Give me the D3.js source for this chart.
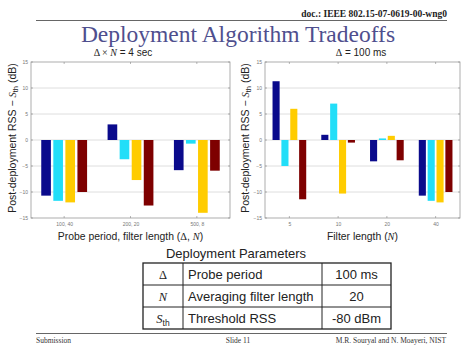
<!DOCTYPE html>
<html><head><meta charset="utf-8">
<script src="https://cdn.jsdelivr.net/npm/d3@7"></script>
<style>
body{margin:0;background:#fff;}
svg{display:block;}
</style></head>
<body>
<svg id="c" width="474" height="355"></svg>
<script>
// ---- data ----
const leftCategories = ["100, 40", "200, 20", "500, 8"];
const rightCategories = ["5", "10", "20", "40"];
const leftSeries1 = [-10.7, 3.0, -5.8];
const leftSeries2 = [-11.7, -3.7, -0.7];
const leftSeries3 = [-12.0, -7.7, -14.0];
const leftSeries4 = [-10.0, -12.6, -5.9];
const rightSeries1 = [11.3, 1.0, -4.1, -10.7];
const rightSeries2 = [-5.0, 7.0, 0.3, -11.7];
const rightSeries3 = [6.0, -10.3, 0.8, -12.0];
const rightSeries4 = [-11.4, -0.5, -3.9, -10.0];
const yTicks = [-15, -10, -5, 0, 5, 10, 15];
const seriesColors = ["#0a0a8c", "#22def8", "#ffcc00", "#7e0000"];
const tableRows = [
  ["Δ", "Probe period", "100 ms"],
  ["N", "Averaging filter length", "20"],
  ["S", "Threshold RSS", "-80 dBm"]
];

const svg = d3.select("#c");

// ---- header ----
svg.append("text").attr("x", 447).attr("y", 17).attr("text-anchor", "end")
  .attr("font-family", "Liberation Serif").attr("font-weight", "bold").attr("font-size", 9.5)
  .attr("fill", "#222").text("doc.: IEEE 802.15-07-0619-00-wng0");
svg.append("line").attr("x1", 36).attr("x2", 447).attr("y1", 20.5).attr("y2", 20.5)
  .attr("stroke", "#666").attr("stroke-width", 1);
svg.append("text").attr("x", 238).attr("y", 42).attr("text-anchor", "middle")
  .attr("font-family", "Liberation Serif").attr("font-size", 23.5)
  .attr("fill", "#4f4f8e").text("Deployment Algorithm Tradeoffs");

// ---- footer ----
svg.append("line").attr("x1", 36).attr("x2", 447).attr("y1", 333.5).attr("y2", 333.5)
  .attr("stroke", "#666").attr("stroke-width", 1);
const foot = [["Submission", 36, "start"], ["Slide 11", 238, "middle"], ["M.R. Souryal and N. Moayeri, NIST", 446, "end"]];
foot.forEach(f => svg.append("text").attr("x", f[1]).attr("y", 343).attr("text-anchor", f[2])
  .attr("font-family", "Liberation Serif").attr("font-size", 7.5).attr("fill", "#333").text(f[0]));

function drawChart(opt) {
  const g = svg.append("g");
  const x = d3.scaleLinear().domain([0.5, opt.cats.length + 0.5]).range([opt.x0, opt.x1]);
  const y = d3.scaleLinear().domain([-15, 15]).range([opt.y1, opt.y0]);
  // grid
  g.selectAll(".grid").data(yTicks.filter(t => t > -15 && t < 15)).enter().append("line")
    .attr("x1", opt.x0).attr("x2", opt.x1).attr("y1", d => y(d)).attr("y2", d => y(d))
    .attr("stroke", "#d6d6d6").attr("stroke-width", 0.8);
  // bars
  const nS = opt.series.length;
  const groupW = Math.min(0.8, nS / (nS + 1.5));
  const step = groupW / nS;
  const bw = step * 0.8;
  opt.series.forEach((s, si) => {
    g.selectAll(null).data(s).enter().append("rect")
      .attr("x", (d, i) => x(i + 1 - groupW / 2 + step * si + (step - bw) / 2))
      .attr("width", x(bw) - x(0))
      .attr("y", d => y(Math.max(0, d)))
      .attr("height", d => Math.abs(y(d) - y(0)))
      .attr("fill", seriesColors[si]);
  });
  // box
  g.append("rect").attr("x", opt.x0).attr("y", opt.y0).attr("width", opt.x1 - opt.x0).attr("height", opt.y1 - opt.y0)
    .attr("fill", "none").attr("stroke", "#9a9a9a").attr("stroke-width", 0.8);
  // y axis
  const ya = d3.axisLeft(y).tickValues(yTicks).tickSize(0).tickPadding(3);
  const yg = g.append("g").attr("transform", `translate(${opt.x0},0)`).call(ya);
  yg.select(".domain").remove();
  yg.selectAll("text").attr("font-family", "Liberation Sans").attr("font-size", 5).attr("fill", "#777");
  // inner ticks
  yTicks.forEach(t => {
    g.append("line").attr("x1", opt.x0).attr("x2", opt.x0 + 2).attr("y1", y(t)).attr("y2", y(t)).attr("stroke", "#888").attr("stroke-width", 0.6);
    g.append("line").attr("x1", opt.x1 - 2).attr("x2", opt.x1).attr("y1", y(t)).attr("y2", y(t)).attr("stroke", "#888").attr("stroke-width", 0.6);
  });
  // x axis
  const xa = d3.axisBottom(x).tickValues(d3.range(1, opt.cats.length + 1)).tickFormat(d => opt.cats[d - 1]).tickSize(0).tickPadding(4);
  const xg = g.append("g").attr("transform", `translate(0,${opt.y1})`).call(xa);
  xg.select(".domain").remove();
  xg.selectAll("text").attr("font-family", "Liberation Sans").attr("font-size", 5).attr("fill", "#777");
  d3.range(1, opt.cats.length + 1).forEach(c => {
    g.append("line").attr("x1", x(c)).attr("x2", x(c)).attr("y1", opt.y1).attr("y2", opt.y1 - 2).attr("stroke", "#888").attr("stroke-width", 0.6);
    g.append("line").attr("x1", x(c)).attr("x2", x(c)).attr("y1", opt.y0).attr("y2", opt.y0 + 2).attr("stroke", "#888").attr("stroke-width", 0.6);
  });
  // y label
  const yl = g.append("text").attr("transform", `translate(${opt.ylx},${(opt.y0 + opt.y1) / 2 - 2}) rotate(-90)`)
    .attr("text-anchor", "middle").attr("font-family", "Liberation Sans").attr("font-size", 10.5).attr("fill", "#222");
  yl.append("tspan").text("Post-deployment RSS − ");
  yl.append("tspan").attr("font-family", "Liberation Serif").attr("font-style", "italic").text("S");
  yl.append("tspan").attr("font-size", 7.5).attr("dy", 2).text("th");
  yl.append("tspan").attr("dy", -2).text(" (dB)");
  // x label
  const xl = g.append("text").attr("x", (opt.x0 + opt.x1) / 2).attr("y", 240).attr("text-anchor", "middle")
    .attr("font-family", "Liberation Sans").attr("font-size", 10.4).attr("fill", "#222");
  opt.xlabel(xl);
  // subtitle
  const st = g.append("text").attr("x", opt.stx).attr("y", 56).attr("text-anchor", "middle")
    .attr("font-family", "Liberation Sans").attr("font-size", 10).attr("fill", "#222");
  opt.subtitle(st);
}

drawChart({
  cats: leftCategories,
  series: [leftSeries1, leftSeries2, leftSeries3, leftSeries4],
  x0: 31, x1: 230, y0: 62, y1: 218, ylx: 16, stx: 123,
  xlabel: t => {
    t.append("tspan").text("Probe period, filter length (");
    t.append("tspan").attr("font-family", "Liberation Serif").text("Δ");
    t.append("tspan").text(", ");
    t.append("tspan").attr("font-family", "Liberation Serif").attr("font-style", "italic").text("N");
    t.append("tspan").text(")");
  },
  subtitle: t => {
    t.append("tspan").attr("font-family", "Liberation Serif").text("Δ × ");
    t.append("tspan").attr("font-family", "Liberation Serif").attr("font-style", "italic").text("N");
    t.append("tspan").text(" = 4 sec");
  }
});
drawChart({
  cats: rightCategories,
  series: [rightSeries1, rightSeries2, rightSeries3, rightSeries4],
  x0: 265, x1: 460, y0: 62, y1: 218, ylx: 249, stx: 361,
  xlabel: t => {
    t.append("tspan").text("Filter length (");
    t.append("tspan").attr("font-family", "Liberation Serif").attr("font-style", "italic").text("N");
    t.append("tspan").text(")");
  },
  subtitle: t => {
    t.append("tspan").attr("font-family", "Liberation Serif").text("Δ");
    t.append("tspan").text(" = 100 ms");
  }
});

// ---- table ----
svg.append("text").attr("x", 236).attr("y", 258).attr("text-anchor", "middle")
  .attr("font-family", "Liberation Sans").attr("font-size", 13).attr("fill", "#222").text("Deployment Parameters");
const tx = [143, 183, 322, 391];
const ty0 = 263, rh = 22;
const tg = svg.append("g");
tg.append("rect").attr("x", tx[0]).attr("y", ty0).attr("width", tx[3] - tx[0]).attr("height", rh * 3)
  .attr("fill", "none").attr("stroke", "#222").attr("stroke-width", 1.3);
[1, 2].forEach(i => tg.append("line").attr("x1", tx[i]).attr("x2", tx[i]).attr("y1", ty0).attr("y2", ty0 + 3 * rh).attr("stroke", "#222").attr("stroke-width", 1));
[1, 2].forEach(r => tg.append("line").attr("x1", tx[0]).attr("x2", tx[3]).attr("y1", ty0 + r * rh).attr("y2", ty0 + r * rh).attr("stroke", "#222").attr("stroke-width", 1));
tableRows.forEach((row, r) => {
  const yb = ty0 + r * rh + 16;
  const s = tg.append("text").attr("x", (tx[0] + tx[1]) / 2).attr("y", yb).attr("text-anchor", "middle")
    .attr("font-family", "Liberation Serif").attr("font-size", 12.5).attr("fill", "#222");
  if (r === 0) s.text(row[0]);
  else if (r === 1) s.attr("font-style", "italic").text(row[0]);
  else { s.append("tspan").attr("font-style", "italic").text(row[0]);
         s.append("tspan").attr("font-family", "Liberation Sans").attr("font-size", 8.5).attr("dy", 2.5).text("th"); }
  tg.append("text").attr("x", tx[1] + 5).attr("y", yb).attr("font-family", "Liberation Sans").attr("font-size", 13)
    .attr("fill", "#222").text(row[1]);
  tg.append("text").attr("x", (tx[2] + tx[3]) / 2).attr("y", yb).attr("text-anchor", "middle").attr("font-family", "Liberation Sans").attr("font-size", 13)
    .attr("fill", "#222").text(row[2]);
});
</script>
</body></html>
